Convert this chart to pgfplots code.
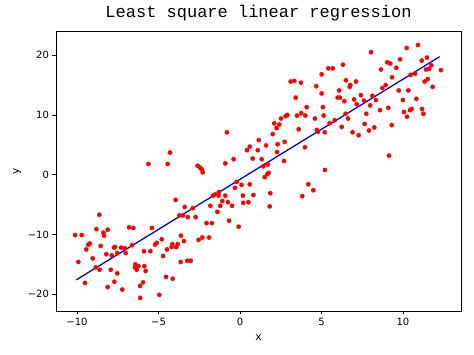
\documentclass[border=0pt]{standalone}
\usepackage{pgfplots}
\pgfplotsset{compat=1.18}
\usepackage{fontspec}
\setmainfont{DejaVu Sans}
\newfontfamily\titlefont{Liberation Mono}
\begin{document}
\begin{tikzpicture}
\useasboundingbox (-56pt,-44pt) rectangle (418pt,311pt);
\begin{axis}[
  at={(0,0)}, anchor=south west,
  scale only axis, width=405pt, height=280pt,
  xmin=-11.29, xmax=13.56, ymin=-22.8, ymax=24.05,
  xtick={-10,-5,0,5,10}, xticklabels={−10,−5,0,5,10},
  ytick={-20,-10,0,10,20}, yticklabels={−20,−10,0,10,20},
  tick align=outside, xtick pos=bottom, ytick pos=left,
  major tick length=3.5pt,
  tick style={black, line width=0.6pt},
  axis line style={black, line width=0.8pt},
  ticklabel style={font=\fontsize{10}{12}\selectfont},
  xlabel={x}, ylabel={y},
  label style={font=\fontsize{10.5}{12}\selectfont},
  xlabel style={at={(axis description cs:0.5,-0.096)}, anchor=center},
  ylabel style={at={(axis description cs:-0.096,0.5)}, anchor=center, rotate=0},
  title={Least square linear regression},
  title style={font=\titlefont\fontsize{17}{17}\selectfont, at={(0.5,1)}, anchor=base, yshift=7pt},
  clip=false,
]
\addplot[only marks, mark=*, mark size=2.1pt, color=red, mark options={draw=red, fill=red}] table {
x y
-5.62 1.8
-8.63 -6.7
-10.12 -10.1
-9.71 -10.1
-8.81 -9.1
-8.38 -9.7
-8.12 -9.2
-8.34 -10.2
-6.81 -8.8
-6.54 -8.9
-5.40 -8.9
-9.22 -11.5
-9.31 -11.7
-9.43 -12.5
-8.55 -11.9
-7.67 -12.1
-7.73 -12.2
-7.30 -12.2
-7.06 -12.3
-6.63 -11.8
-8.20 -13.3
-7.87 -13.5
-7.53 -13.1
-7.01 -13.1
-5.89 -12.8
-5.50 -12.8
-5.21 -11.7
-5.11 -11.4
-4.80 -10.8
-9.04 -14.0
-9.92 -14.6
-8.85 -15.5
-8.61 -15.9
-7.93 -15.9
-7.53 -16.5
-6.42 -15.0
-6.38 -15.4
-6.24 -15.3
-6.44 -15.5
-6.34 -15.9
-5.87 -15.3
-5.79 -16.1
-4.72 -13.6
-9.51 -18.1
-8.12 -18.8
-7.71 -17.9
-7.22 -19.2
-5.95 -18.0
-6.13 -18.6
-6.12 -20.6
-4.95 -20.1
-4.54 -17.1
-0.80 7.1
-4.29 3.7
-4.44 1.8
-2.60 1.5
-2.45 1.2
-2.35 0.9
-2.29 0.4
0.60 4.7
0.43 4.1
1.15 5.8
1.09 4.1
-0.90 1.9
-0.39 2.6
-0.20 -1.2
-0.31 -2.2
0.10 -1.7
0.60 -1.6
0.82 -3.4
0.18 -3.5
0.51 -4.6
0.20 -4.7
-0.49 -5.2
-0.74 -4.6
-0.90 -3.5
-1.09 -4.4
-1.21 -5.2
-1.39 -6.2
-1.31 -3.5
-1.29 -2.9
-1.53 -3.3
-1.82 -5.2
-1.66 -3.5
-0.67 -7.7
-0.08 -8.7
-1.72 -8.1
-2.05 -8.1
-1.90 -10.5
-2.31 -10.5
-2.54 -10.9
-2.72 -7.1
-2.90 -5.6
-3.21 -7.1
-3.39 -5.4
-3.50 -6.8
-3.72 -6.8
-3.95 -4.2
-3.62 -10.2
-3.44 -11.1
-3.82 -11.6
-4.15 -11.6
-4.19 -12.1
-3.91 -12.1
-4.48 -12.5
-3.64 -14.6
-3.23 -14.4
-3.02 -14.4
-4.13 -17.4
0.78 2.7
6.32 18.4
5.42 17.8
5.69 17.8
5.01 16.8
3.11 15.6
3.33 15.7
3.74 15.4
4.68 14.8
6.50 15.8
6.73 14.7
6.77 15.0
7.12 15.6
5.01 13.6
3.42 12.9
6.09 14.1
5.99 12.9
6.13 12.9
6.40 12.3
7.00 12.6
7.16 11.8
4.09 11.3
5.09 11.3
3.76 10.3
3.50 9.9
4.01 9.9
2.90 10.0
2.80 9.8
2.52 9.4
2.10 8.6
2.41 8.4
2.25 7.8
2.01 6.8
4.60 9.4
5.13 9.9
5.81 9.1
5.50 8.6
6.63 9.4
6.24 8.0
6.48 10.2
4.71 7.5
4.79 7.2
5.20 7.1
3.60 7.6
6.91 7.1
7.28 6.6
2.74 5.5
2.31 5.1
1.60 4.9
2.27 3.8
3.99 4.6
1.33 2.6
1.43 1.4
1.70 1.7
2.70 2.3
1.76 0.3
1.68 0.1
1.52 -0.4
5.21 0.8
4.19 -1.6
4.50 -2.6
3.82 -3.6
1.86 -3.1
1.82 -5.3
10.23 21.2
10.92 21.7
8.04 20.5
11.47 19.6
11.15 19.1
9.82 19.3
9.04 18.8
9.22 18.6
9.59 17.9
8.65 17.6
11.41 17.6
11.60 17.7
11.74 18.3
12.33 17.5
10.74 16.9
10.47 16.7
9.33 16.3
11.52 16.0
11.33 15.6
11.82 14.7
8.94 15.0
8.73 14.5
10.33 14.1
9.74 14.1
7.42 13.3
8.12 13.2
7.61 12.4
8.34 12.5
10.00 12.5
10.82 12.7
7.99 11.6
9.10 11.2
8.59 10.8
7.75 10.2
10.53 11.0
10.43 10.8
11.17 11.0
10.06 10.5
11.25 10.2
10.25 9.7
7.65 8.5
9.31 8.3
8.24 7.9
7.91 7.4
9.14 3.2
};
\addplot[color=blue, line width=1.3pt] coordinates {(-10.05,-17.6) (12.25,19.75)};
\end{axis}
\end{tikzpicture}
\end{document}
